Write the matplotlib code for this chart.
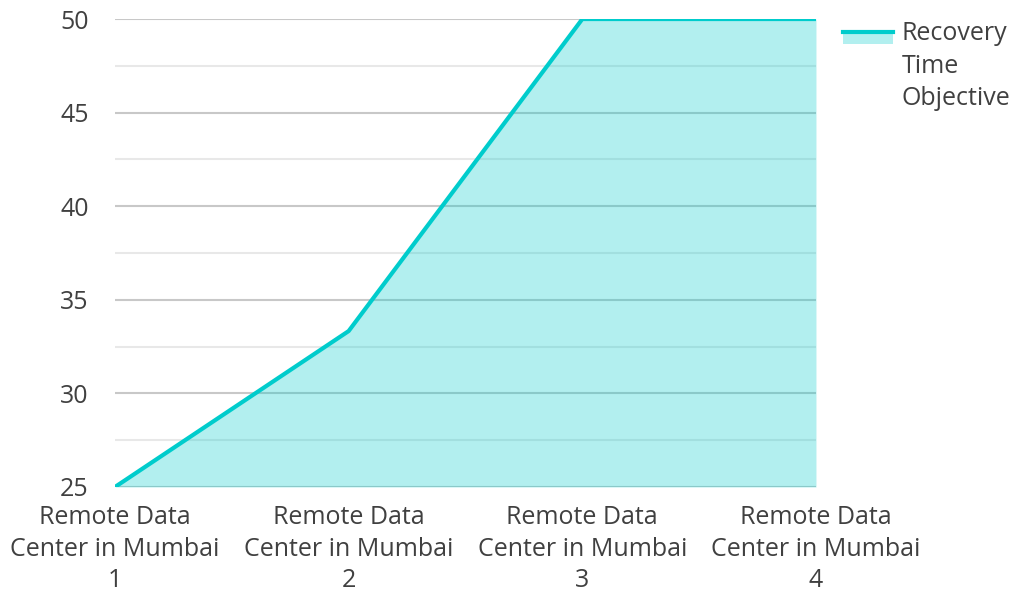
import matplotlib
matplotlib.use('Agg')
import matplotlib.pyplot as plt
from matplotlib.legend_handler import HandlerBase
from matplotlib.patches import Rectangle, Patch
from matplotlib.lines import Line2D

#%% data
categories = ['Remote Data\nCenter in Mumbai\n1', 'Remote Data\nCenter in Mumbai\n2',
              'Remote Data\nCenter in Mumbai\n3', 'Remote Data\nCenter in Mumbai\n4']
rto = [25, 33.33, 50, 50]
series_name = 'Recovery\nTime\nObjective'

line_color = '#00cccc'
fill_color = '#00cccc'
text_color = '#404040'

plt.rcParams['font.family'] = ['Open Sans', 'DejaVu Sans']
plt.rcParams['font.size'] = 18


class TopBarHandler(HandlerBase):
    # patch + line drawn at top of the (tall) handle box
    def create_artists(self, legend, orig, xd, yd, w, h, fs, trans):
        top = -yd + h + 0.2 * fs
        ph = 0.58 * fs
        r = Rectangle((-xd, top - ph), w, ph, facecolor=fill_color, alpha=0.3,
                      edgecolor='none', transform=trans)
        l = Line2D([-xd, -xd + w], [top - 0.09 * fs] * 2, color=line_color, lw=3,
                   transform=trans)
        return [r, l]


#%% plot
fig = plt.figure(figsize=(10.14, 5.89), dpi=100)
ax = fig.add_axes([0.1134, 0.1732, 0.8047 - 0.1134, 0.9677 - 0.1732])

x = list(range(len(categories)))
ax.fill_between(x, rto, 25, color=fill_color, alpha=0.3, lw=0, zorder=2)
ax.plot(x, rto, color=line_color, lw=3, zorder=3)

ax.set_xlim(0, len(categories) - 1)
ax.set_ylim(25, 50)
ax.set_yticks([25, 30, 35, 40, 45, 50])
ax.set_yticks([27.5, 32.5, 37.5, 42.5, 47.5], minor=True)
ax.set_xticks(x)
ax.set_xticklabels(categories, linespacing=1.35)
ax.grid(which='major', axis='y', color='#c8c8c8', lw=1.5, zorder=1)
ax.grid(which='minor', axis='y', color='#e8e8e8', lw=1.5, zorder=1)
ax.set_axisbelow(True)
for s in ax.spines.values():
    s.set_visible(False)
ax.tick_params(axis='both', which='both', length=0, colors=text_color)
ax.tick_params(axis='y', pad=19)
ax.tick_params(axis='x', pad=13)

proxy = Patch(facecolor=fill_color)
leg = ax.legend([proxy], [series_name], handler_map={proxy: TopBarHandler()},
                loc='upper left', bbox_to_anchor=(1.007, 1.043), frameon=False,
                handlelength=2.0, handleheight=3.8, handletextpad=0.33,
                labelcolor=text_color)
for t in leg.get_texts():
    t.set_linespacing(1.38)

fig.savefig('out.png', dpi=100)
